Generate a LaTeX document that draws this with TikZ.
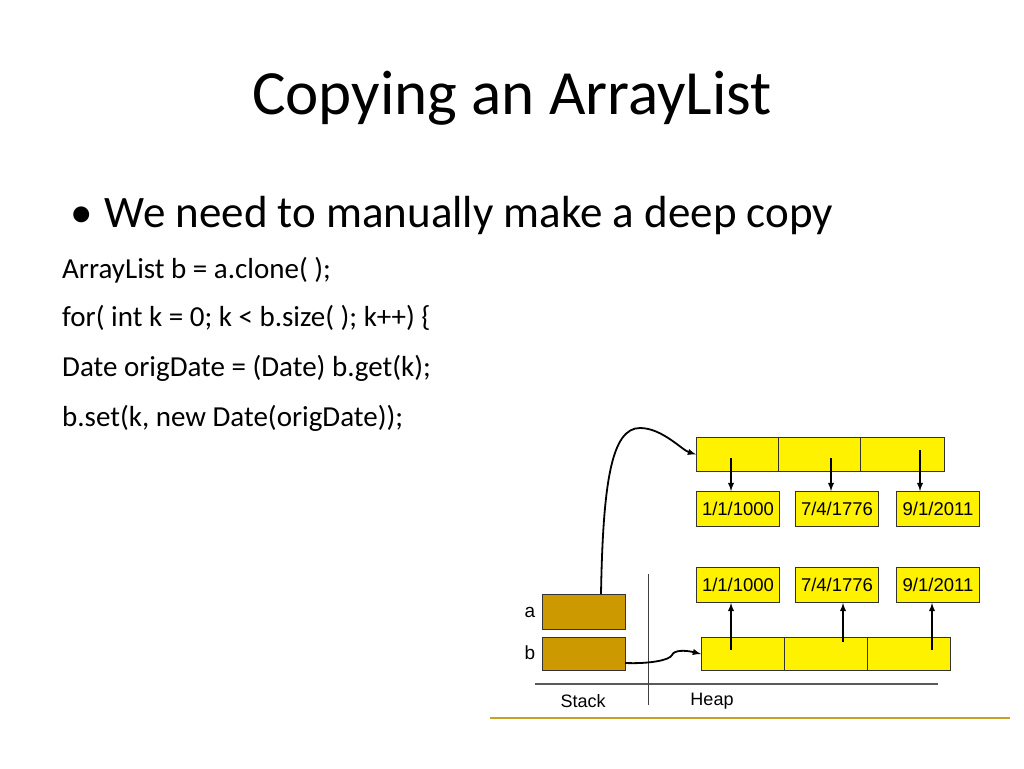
\documentclass[tikz,border=0pt]{standalone}
\usepackage{fontspec}
\setmainfont{Carlito}
\newfontfamily\arialf{Liberation Sans}
\definecolor{stkcol}{RGB}{204,153,0}
\definecolor{orl}{RGB}{200,160,40}
\begin{document}
\begin{tikzpicture}[x=1pt,y=-1pt,
  cell/.style={draw=black!80,fill=yellow,line width=1pt},
  datebox/.style={draw=black!80,fill=yellow,line width=1pt,minimum width=83pt,minimum height=35pt,inner sep=0pt,font=\arialf\fontsize{18.5}{18.5}\selectfont},
  stk/.style={draw=black!80,fill=stkcol,line width=1pt},
  arr/.style={-latex,line width=1.8pt},
  txt/.style={anchor=west,inner sep=0pt,font=\fontsize{29}{29}\selectfont}]
\useasboundingbox (0,0) rectangle (1024,768);
\node (title) at (512,98) {\fontsize{63}{63}\selectfont Copying an ArrayList};
\node[txt] (bul) at (70,215) {\fontsize{45}{45}\selectfont\textbullet\hspace{12pt}We need to manually make a deep copy};
\node[txt] (l1) at (62,270) {ArrayList b = a.clone( );};
\node[txt] (l2) at (62,318) {for( int k = 0; k < b.size( ); k++) \{};
\node[txt] (l3) at (62,368) {Date origDate = (Date) b.get(k);};
\node[txt] (l4) at (62,418) {b.set(k, new Date(origDate));};
% top array
\node[cell,minimum width=82pt,minimum height=34pt,inner sep=0pt,anchor=north west] (t1) at (696,437) {};
\node[cell,minimum width=82pt,minimum height=34pt,inner sep=0pt,anchor=north west] (t2) at (778,437) {};
\node[cell,minimum width=84pt,minimum height=34pt,inner sep=0pt,anchor=north west] (t3) at (860,437) {};
\node[datebox,anchor=north west] (d1) at (696,491) {1/1/1000};
\node[datebox,anchor=north west] (d2) at (795,491) {7/4/1776};
\node[datebox,anchor=north west] (d3) at (896,491) {9/1/2011};
\node[datebox,anchor=north west] (e1) at (696,567) {1/1/1000};
\node[datebox,anchor=north west] (e2) at (795,567) {7/4/1776};
\node[datebox,anchor=north west] (e3) at (896,567) {9/1/2011};
\node[cell,minimum width=83pt,minimum height=33pt,inner sep=0pt,anchor=north west] (b1) at (701,637) {};
\node[cell,minimum width=83pt,minimum height=33pt,inner sep=0pt,anchor=north west] (b2) at (784,637) {};
\node[cell,minimum width=83pt,minimum height=33pt,inner sep=0pt,anchor=north west] (b3) at (867,637) {};
\node[stk,minimum width=83pt,minimum height=35pt,inner sep=0pt,anchor=north west] (sa) at (542,594) {};
\node[stk,minimum width=83pt,minimum height=33pt,inner sep=0pt,anchor=north west] (sb) at (542,637) {};
\node[font=\arialf\fontsize{19}{19}\selectfont] (la) at (530,612) {a};
\node[font=\arialf\fontsize{19}{19}\selectfont] (lb) at (530,653) {b};
\node[font=\arialf\fontsize{18}{18}\selectfont] (ls) at (583,701) {Stack};
\node[font=\arialf\fontsize{18}{18}\selectfont] (lh) at (712,701) {Heap};
\coordinate (h1) at (535,684); \coordinate (h2) at (938,684);
\coordinate (v1) at (648,574); \coordinate (v2) at (648,705);
\draw[black!65,line width=1.2pt] (h1) -- (h2);
\draw[black!75,line width=0.9pt] (v1) -- (v2);
\coordinate (o1) at (490,718); \coordinate (o2) at (1010,718);
\draw[orl,line width=2.5pt] (o1) -- (o2);
% arrows
\coordinate (as) at (601,594);
\draw[arr] (as) .. controls (603,480) and (612,428) .. (640,428) .. controls (662,428) and (682,450) .. (t1.west);
\coordinate (bs) at (625,663);
\draw[arr] (bs) .. controls (650,664) and (670,660) .. (672,655) .. controls (674,650) and (685,650) .. (b1.west);
\foreach \s/\d/\x/\y in {t1/d1/731/458, t2/d2/831/458, t3/d3/920/450}{
  \coordinate (s\s) at (\x,\y);
  \draw[arr] (s\s) -- (s\s |- \d.north);
}
\foreach \s/\d/\x/\y in {b1/e1/731/650, b2/e2/843/642, b3/e3/932/650}{
  \coordinate (s\s) at (\x,\y);
  \draw[arr] (s\s) -- (s\s |- \d.south);
}
\end{tikzpicture}
\end{document}
